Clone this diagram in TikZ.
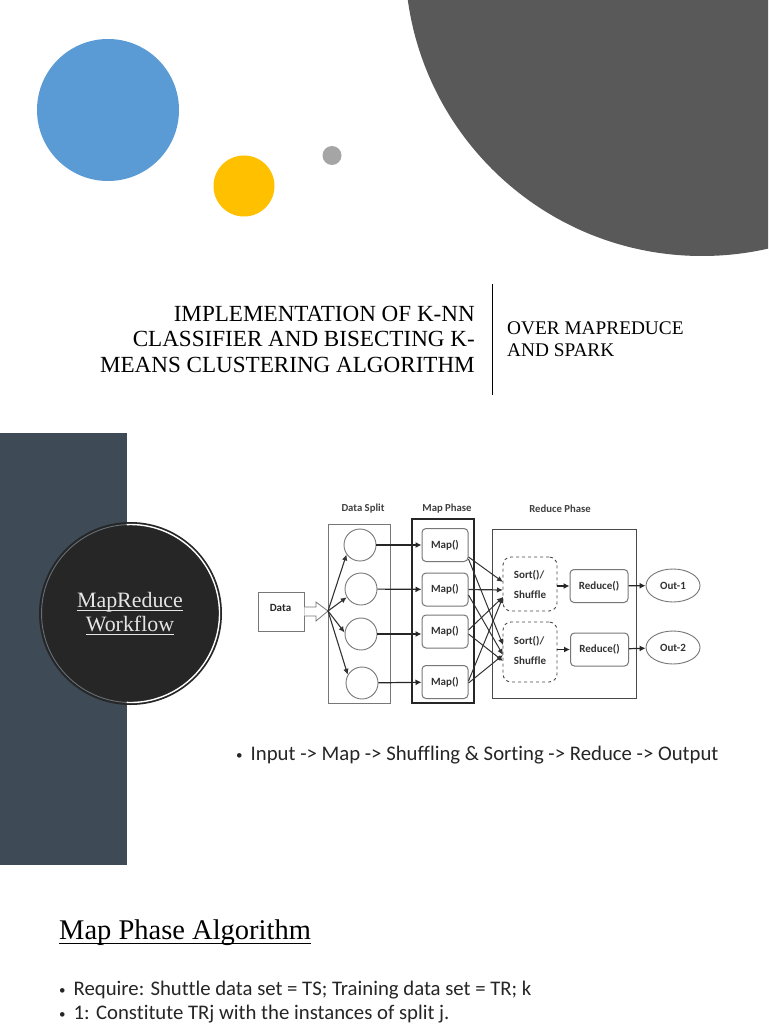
\documentclass[tikz,border=0pt]{standalone}
\usepackage{fontspec}
\setmainfont{Liberation Serif}
\newfontfamily\bodyfont{Carlito}[Ligatures=NoCommon]
\newfontfamily\diagfont{Carlito}[Ligatures=NoCommon]
\usetikzlibrary{arrows.meta,shapes.geometric}
\definecolor{slate}{HTML}{3E4B56}
\definecolor{darkc}{HTML}{262626}
\definecolor{bigc}{HTML}{595959}
\definecolor{bluec}{HTML}{5B9BD5}
\definecolor{yellowc}{HTML}{FFC000}
\definecolor{dotc}{HTML}{A5A5A5}
\definecolor{edge}{HTML}{4A4A4A}
\newcommand\ulx[3]{\leavevmode\setbox0=\hbox{#3}\rlap{\rule[-#1]{\wd0}{#2}}\box0}
\newcommand\smallbul{\makebox[14.5pt][l]{\raisebox{1pt}{\fontsize{13}{13}\selectfont\textbullet}}}
\tikzset{
 x=1pt,y=-1pt,
 disc/.style={circle,inner sep=0pt,draw=none},
 titletext/.style={font=\fontsize{23.1}{25.5}\selectfont,align=right,anchor=east,inner sep=0pt,text=black},
 subtext/.style={font=\fontsize{19.3}{22}\selectfont,align=left,anchor=west,inner sep=0pt,text=black},
 bul/.style={font=\bodyfont\fontsize{20.75}{22}\selectfont,anchor=west,inner sep=0pt,text=black!85},
 lab/.style={font=\diagfont\bfseries\fontsize{10.7}{11}\selectfont,inner sep=0pt,text=black!75},
 panel/.style={draw=edge,line width=0.9pt,inner sep=0pt,fill=white},
 mapbox/.style={draw=edge!75,line width=1pt,rounded corners=4pt,inner sep=0pt,font=\diagfont\bfseries\fontsize{11}{12}\selectfont,text=black!80,minimum width=46pt,minimum height=33pt},
 redbox/.style={mapbox,minimum width=58pt},
 sortbox/.style={draw=edge,line width=0.9pt,dashed,rounded corners=8pt,inner sep=0pt,align=left,font=\diagfont\bfseries\fontsize{11}{20}\selectfont,text=black!80,minimum width=54pt},
 splitc/.style={circle,draw=edge!75,line width=0.9pt,inner sep=0pt,minimum size=32pt},
 outc/.style={ellipse,draw=edge!75,line width=0.9pt,inner sep=0pt,minimum width=54pt,minimum height=33pt,font=\diagfont\bfseries\fontsize{11}{12}\selectfont,text=black!80},
 flow/.style={draw=black!85,line width=1.2pt,-{Latex[length=6pt,width=6pt]}},
 cross/.style={draw=black!80,line width=1pt,-{Latex[length=6pt,width=5.5pt]}},
 fan/.style={cross,line width=1.1pt},
}
\begin{document}
\begin{tikzpicture}
\useasboundingbox (0,0) rectangle (768,1024);
\fill[white] (0,0) rectangle (768,1024);
\begin{scope}
\clip (0,0) rectangle (768,1024);
\node[disc,fill=bigc,minimum size=594pt] (big) at (702,-41) {};
\end{scope}
\node[disc,fill=bluec,minimum size=142pt] (blue) at (108,110) {};
\node[disc,fill=yellowc,minimum size=61pt] (yellow) at (244,186) {};
\node[disc,fill=dotc,minimum size=19pt] (dot) at (332,155.5) {};
% title
\node[titletext] (title) at (475,339) {IMPLEMENTATION OF K-NN\\CLASSIFIER AND BISECTING K-\\MEANS CLUSTERING ALGORITHM};
\coordinate (ruleA) at (492,284);
\coordinate (ruleB) at (492,395);
\draw[black,line width=0.8pt] (ruleA) -- (ruleB);
\node[subtext] (sub) at (507,339.5) {OVER MAPREDUCE\\AND SPARK};
% panel
\fill[slate] (0,433) rectangle (126.5,865);
\node[disc,fill=darkc,minimum size=183pt] (wf) at (130.5,613.5) {};
\draw[white,line width=1.4pt] (126.5,524.6) arc[start angle=-92.6,end angle=92.6,radius=89];
\draw[slate!80!white,line width=0.9pt] (126.5,524.6) arc[start angle=-92.6,end angle=-267.4,radius=89];
\node[font=\fontsize{21.9}{24}\selectfont,text=white!90!black,align=center,inner sep=0pt] (wft) at (130,614) {\ulx{3.5pt}{1.1pt}{MapReduce}\\\ulx{3.5pt}{1.1pt}{Workflow}};
% diagram panels
\node[panel,draw=edge!75,minimum width=62pt,minimum height=179pt] (split) at (359,613.5) {};
\node[panel,draw=black!85,line width=1.2pt,minimum width=62pt,minimum height=184pt] (mapp) at (443,611) {};
\node[panel,minimum width=144pt,minimum height=169pt] (redp) at (564,613.5) {};
\node[lab] (l1) at (363,508.5) {Data Split};
\node[lab] (l2) at (447,508.5) {Map Phase};
\node[lab] (l3) at (560,508.5) {Reduce Phase};
\node[panel,draw=edge!75,minimum width=46pt,minimum height=39pt] (data) at (281,611.5) {};
\node[font=\diagfont\bfseries\fontsize{11}{12}\selectfont,text=black!85,inner sep=0pt] (datal) at (280.5,608) {Data};
\node[splitc] (c1) at (360,545) {};
\node[splitc] (c2) at (361,589) {};
\node[splitc] (c3) at (361,634) {};
\node[splitc] (c4) at (362,683) {};
\node[mapbox] (m1) at (445,545) {Map()};
\node[mapbox] (m2) at (445,589.5) {Map()};
\node[mapbox] (m3) at (445,631.5) {Map()};
\node[mapbox] (m4) at (445,682) {Map()};
\node[sortbox,minimum height=54pt] (s1) at (530,584) {Sort()/\\Shuffle};
\node[sortbox,minimum height=60pt] (s2) at (530,652) {\raisebox{3.5pt}{Sort()/}\\\raisebox{3.5pt}{Shuffle}};
\node[redbox] (r1) at (599,586) {Reduce()};
\node[redbox] (r2) at (599.5,649.5) {Reduce()};
\node[outc] (o1) at (673,585.5) {Out-1};
\node[outc] (o2) at (673,647.5) {Out-2};
% hollow arrow
\coordinate (fanpt) at (328,611);
\draw[draw=edge!75,fill=white,line width=0.8pt] (data.east |- 0,607) -- (316,607) -- (316,602) -- (fanpt) -- (316,621) -- (316,616) -- (data.east |- 0,616);
% fan
\draw[fan] (fanpt) -- (c1.215);
\draw[fan] (fanpt) -- (c2.210);
\draw[fan] (fanpt) -- (c3.175);
\draw[fan] (fanpt) -- (c4.150);
% split to map
\draw[flow] (c1) -- (m1);
\draw[flow] (c2) -- (m2);
\draw[flow] (c3.east) -- (m3.west |- c3.east);
\draw[flow] (c4) -- (m4);
% crossing
\coordinate (a1) at (503,582);
\coordinate (a2) at (503,590);
\coordinate (a3) at (503,597);
\coordinate (a4) at (503,645);
\coordinate (a5) at (503,655);
\coordinate (a6) at (503,661);
\draw[cross] (m1.east |- 0,557) -- (a1);
\draw[cross] (m1.east |- 0,559) -- (a4);
\draw[cross,line width=1.2pt] (m2.east) -- (a2);
\draw[cross] (m2.east |- 0,595) -- (a5);
\draw[cross] (m3.east |- 0,630) -- (a3);
\draw[cross] (m3.east |- 0,634) -- (a6);
\draw[cross] (m4.east |- 0,681) -- (a3);
\draw[cross] (m4.east |- 0,683) -- (a5);
% reduce
\draw[flow] (s1.east |- r1.west) -- (r1.west);
\draw[flow] (s2.east |- r2.west) -- (r2.west);
\draw[flow] (r1) -- (o1);
\draw[flow] (r2) -- (o2);
% bullets
\node[bul] (b1) at (236,755) {\smallbul Input -> Map -> Shuffling \& Sorting -> Reduce -> Output};
\node[font=\fontsize{28.5}{30}\selectfont,anchor=west,inner sep=0pt,text=black] (h) at (59,933) {\ulx{4pt}{1.1pt}{Map Phase Algorithm}};
\node[bul] (b2) at (59,990) {\smallbul Require: Shuttle data set = TS; Training data set = TR; k};
\node[bul] (b3) at (59,1014.5) {\smallbul 1: Constitute TRj with the instances of split j.};
\end{tikzpicture}
\end{document}
